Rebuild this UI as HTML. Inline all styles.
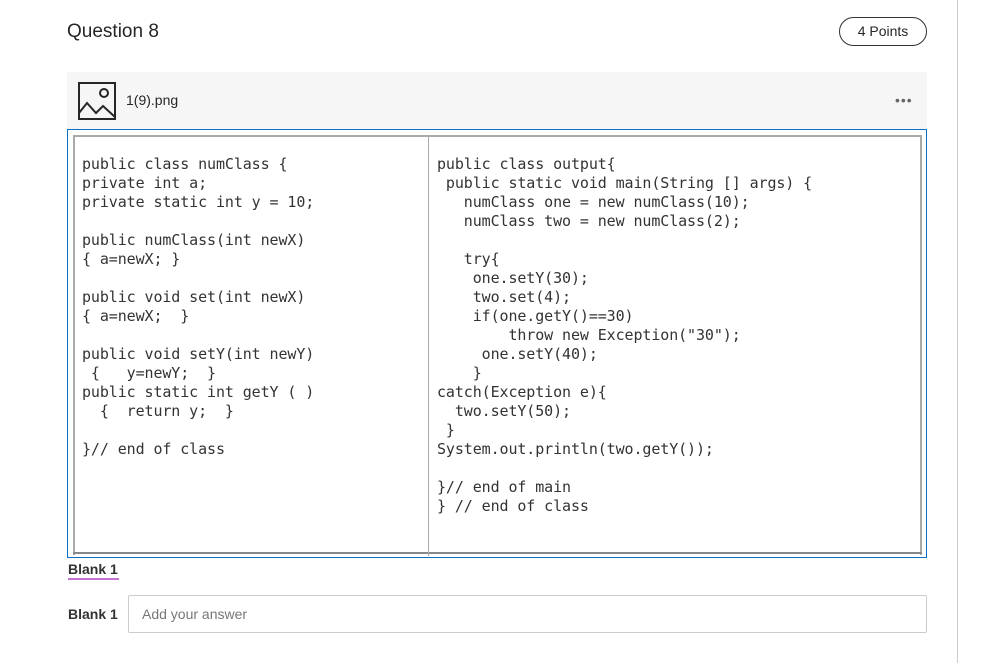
<!DOCTYPE html>
<html><head><style>
body{margin:0;width:1005px;height:663px;background:#fff;position:relative;overflow:hidden;font-family:"Liberation Sans",sans-serif;color:#262626}
.a{position:absolute}
pre{margin:0;font-family:"DejaVu Sans Mono","Liberation Mono",monospace;font-size:15px;line-height:19px;color:#333;letter-spacing:-0.1px}
</style></head><body>
<div class="a" style="left:67px;top:21px;font-size:19px;color:#262626">Question 8</div>
<div class="a" style="left:839px;top:17px;width:86px;height:27px;border:1px solid #333;border-radius:15px;font-size:14px;text-align:center;line-height:27px">4 Points</div>
<div class="a" style="left:957px;top:0;width:1px;height:663px;background:#ccc"></div>
<div class="a" style="left:67px;top:72px;width:860px;height:57px;background:#f6f6f6"></div>
<svg class="a" style="left:78px;top:82px" width="38" height="38" viewBox="0 0 38 38"><rect x="1" y="1" width="36" height="36" fill="none" stroke="#262626" stroke-width="2"/><circle cx="26" cy="11" r="4" fill="none" stroke="#262626" stroke-width="2"/><polyline points="1,31 9,21 18,31 25,24 37,35" fill="none" stroke="#262626" stroke-width="2"/></svg>
<div class="a" style="left:126px;top:92px;font-size:14px">1(9).png</div>
<div class="a" style="left:895px;top:92px;font-size:14px;color:#666;letter-spacing:1px">•••</div>
<div class="a" style="left:67px;top:129px;width:858px;height:427px;border:1px solid #0a6fc7"></div>
<div class="a" style="left:73px;top:135px;width:849px;height:420px;border:2px solid #aaa;border-bottom:none;box-sizing:border-box"></div>
<div class="a" style="left:73px;top:552px;width:849px;height:2px;background:#888"></div>
<div class="a" style="left:428px;top:135px;width:1px;height:421px;background:#aaa"></div>
<pre class="a" style="left:82px;top:155px">public class numClass {
private int a;
private static int y = 10;

public numClass(int newX)
{ a=newX; }

public void set(int newX)
{ a=newX;  }

public void setY(int newY)
 {   y=newY;  }
public static int getY ( )
  {  return y;  }

}// end of class</pre>
<pre class="a" style="left:437px;top:155px">public class output{
 public static void main(String [] args) {
   numClass one = new numClass(10);
   numClass two = new numClass(2);

   try{
    one.setY(30);
    two.set(4);
    if(one.getY()==30)
        throw new Exception("30");
     one.setY(40);
    }
catch(Exception e){
  two.setY(50);
 }
System.out.println(two.getY());

}// end of main
} // end of class</pre>
<div class="a" style="left:68px;top:561px;font-size:14px;font-weight:bold;color:#333">Blank 1</div>
<div class="a" style="left:68px;top:578px;width:51px;height:2px;background:#c470d4"></div>
<div class="a" style="left:68px;top:606px;font-size:14px;font-weight:bold;color:#333">Blank 1</div>
<div class="a" style="left:128px;top:595px;width:797px;height:36px;border:1px solid #ccc;border-radius:2px"></div>
<div class="a" style="left:142px;top:606px;font-size:14px;color:#777">Add your answer</div>
</body></html>
